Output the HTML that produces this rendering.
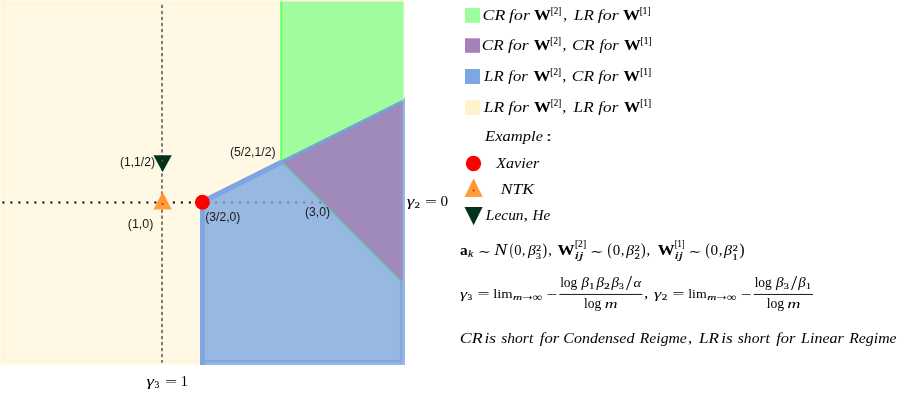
<!DOCTYPE html>
<html lang="en"><head><meta charset="utf-8"><title>Phase diagram</title>
<style>
html,body{margin:0;padding:0;background:#fff;}
body{width:907px;height:393px;overflow:hidden;}
svg{display:block;}
text{white-space:pre;}
</style></head><body>
<svg width="907" height="393" viewBox="0 0 907 393">
<defs>
<linearGradient id="og" x1="0" y1="0" x2="0" y2="1"><stop offset="0" stop-color="#ff9128"/><stop offset="1" stop-color="#ffa040"/></linearGradient>
</defs>
<rect x="2.4" y="2.4" width="399.8" height="360" fill="#FFF2CC" fill-opacity="0.5" stroke="#FFF2CC" stroke-opacity="0.5" stroke-width="5"/>
<path d="M162 4.8V362.8" stroke="#000" stroke-width="1" stroke-dasharray="3.3 2.72" fill="none"/>
<path d="M2.4 202.4H162" stroke="#000" stroke-width="2" stroke-dasharray="2 6" fill="none"/>
<path d="M172.9 202.4H196" stroke="#000" stroke-width="2" stroke-dasharray="2 6" fill="none"/>
<path d="M215 202.4H404" stroke="#000" stroke-width="2" stroke-dasharray="2 6.02" fill="none"/>
<polygon points="202.5,201.8 402.5,101.8 402.5,362.4 202.5,362.4" fill="#7EA6E0" fill-opacity="0.8" stroke="#7EA6E0" stroke-opacity="0.8" stroke-width="5" stroke-linejoin="miter"/>
<path d="M202.5 364.9V201.8L282 162.05" fill="none" stroke="#7EA6E0" stroke-width="5" stroke-linejoin="miter"/>
<polygon points="281.2,1.4 403.6,1.4 403.6,99.6 281.2,160.6" fill="#a0fd9e"/>
<path d="M281.2 1.4V160.4" stroke="#66ff66" stroke-width="2" fill="none"/>
<path d="M282 162.05L402.5 101.8" stroke="#74a5d4" stroke-width="3.3" fill="none"/>
<polygon points="283,162.8 402.6,103.0 402.6,282.3" fill="#a08abc" stroke="none"/>
<path d="M283 162.8L402.6 282.3" stroke="#6fbcae" stroke-width="1.7" fill="none"/>
<polygon points="153.4,155.2 171.8,155.2 162.6,171.9" fill="#00331a"/>
<polygon points="153.4,209.5 171.8,209.5 162.6,192" fill="url(#og)"/>
<circle cx="162.4" cy="160.6" r="0.9" fill="#e02020"/>
<circle cx="162.5" cy="204" r="1" fill="#ff1010"/>
<circle cx="202.4" cy="202.2" r="7.5" fill="#ff0000"/>
<rect x="465" y="8" width="15" height="14.8" fill="#9cfd9b"/>
<rect x="465" y="38.3" width="15" height="14.5" fill="#A680B8"/>
<rect x="465" y="69" width="15" height="15" fill="#7EA6E0"/>
<rect x="465" y="100" width="15" height="14.8" fill="#FFF2CC"/>
<circle cx="473.5" cy="163.5" r="7.7" fill="#ff0000"/>
<polygon points="464.5,197 482.8,197 473.6,178.4" fill="url(#og)"/>
<circle cx="473.6" cy="190.6" r="1" fill="#ff1010"/>
<polygon points="464.5,207 482.6,207 473.6,225.3" fill="#00331a"/>
<path d="M559.3 294.45H642.3M753.8 294.45H813" stroke="#000" stroke-width="0.9" fill="none"/>
<text x="119.97" y="165.6" font-family='"Liberation Sans", "DejaVu Sans", sans-serif' font-size="12" textLength="34.97" lengthAdjust="spacingAndGlyphs" fill="#1a1a1a">(1,1/2)</text>
<text x="229.96" y="155.6" font-family='"Liberation Sans", "DejaVu Sans", sans-serif' font-size="12" textLength="45.69" lengthAdjust="spacingAndGlyphs" fill="#1a1a1a">(5/2,1/2)</text>
<text x="205.27" y="220.7" font-family='"Liberation Sans", "DejaVu Sans", sans-serif' font-size="12" textLength="35.07" lengthAdjust="spacingAndGlyphs" fill="#1a1a1a">(3/2,0)</text>
<text x="304.97" y="215.8" font-family='"Liberation Sans", "DejaVu Sans", sans-serif' font-size="12" textLength="25.08" lengthAdjust="spacingAndGlyphs" fill="#1a1a1a">(3,0)</text>
<text x="127.75" y="227.7" font-family='"Liberation Sans", "DejaVu Sans", sans-serif' font-size="12" textLength="25.71" lengthAdjust="spacingAndGlyphs" fill="#1a1a1a">(1,0)</text>
<text x="406.81" y="205.8" font-family='"Liberation Serif", "DejaVu Serif", serif' font-size="13.88" font-style="italic" textLength="7.59" lengthAdjust="spacingAndGlyphs" fill="#000">γ</text>
<text x="414.56" y="207.5" font-family='"Liberation Serif", "DejaVu Serif", serif' font-size="8.96" stroke="#000" stroke-width="0.12" textLength="5.49" lengthAdjust="spacingAndGlyphs" fill="#000">2</text>
<text x="424.96" y="206.3" font-family='"Liberation Serif", "DejaVu Serif", serif' font-size="13.5" textLength="11.87" lengthAdjust="spacingAndGlyphs" fill="#000">=</text>
<text x="440.54" y="205.6" font-family='"Liberation Serif", "DejaVu Serif", serif' font-size="15.15" textLength="7.61" lengthAdjust="spacingAndGlyphs" fill="#000">0</text>
<text x="146.61" y="385.9" font-family='"Liberation Serif", "DejaVu Serif", serif' font-size="14.48" font-style="italic" textLength="7.50" lengthAdjust="spacingAndGlyphs" fill="#000">γ</text>
<text x="154.61" y="387.8" font-family='"Liberation Serif", "DejaVu Serif", serif' font-size="9.56" stroke="#000" stroke-width="0.12" textLength="4.88" lengthAdjust="spacingAndGlyphs" fill="#000">3</text>
<text x="164.93" y="386.4" font-family='"Liberation Serif", "DejaVu Serif", serif' font-size="13.5" textLength="12.22" lengthAdjust="spacingAndGlyphs" fill="#000">=</text>
<text x="180.77" y="385.8" font-family='"Liberation Serif", "DejaVu Serif", serif' font-size="14.85" textLength="7.08" lengthAdjust="spacingAndGlyphs" fill="#000">1</text>
<text x="482.61" y="20.1" font-family='"Liberation Serif", "DejaVu Serif", serif' font-size="14" font-style="italic" textLength="22.78" lengthAdjust="spacingAndGlyphs" fill="#000">CR</text>
<text x="509.12" y="20.1" font-family='"Liberation Serif", "DejaVu Serif", serif' font-size="14" font-style="italic" textLength="20.69" lengthAdjust="spacingAndGlyphs" fill="#000">for</text>
<text x="533.93" y="20.1" font-family='"Liberation Serif", "DejaVu Serif", serif' font-size="14" font-weight="bold" textLength="16.84" lengthAdjust="spacingAndGlyphs" fill="#000">W</text>
<text x="550.67" y="14.3" font-family='"Liberation Serif", "DejaVu Serif", serif' font-size="10.5" stroke="#000" stroke-width="0.12" textLength="10.49" lengthAdjust="spacingAndGlyphs" fill="#000">[2]</text>
<text x="563.15" y="20.1" font-family='"Liberation Serif", "DejaVu Serif", serif' font-size="14" textLength="3.75" lengthAdjust="spacingAndGlyphs" fill="#000">,</text>
<text x="574.04" y="20.1" font-family='"Liberation Serif", "DejaVu Serif", serif' font-size="14" font-style="italic" textLength="19.94" lengthAdjust="spacingAndGlyphs" fill="#000">LR</text>
<text x="597.82" y="20.1" font-family='"Liberation Serif", "DejaVu Serif", serif' font-size="14" font-style="italic" textLength="20.98" lengthAdjust="spacingAndGlyphs" fill="#000">for</text>
<text x="622.93" y="20.1" font-family='"Liberation Serif", "DejaVu Serif", serif' font-size="14" font-weight="bold" textLength="17.14" lengthAdjust="spacingAndGlyphs" fill="#000">W</text>
<text x="639.76" y="14.3" font-family='"Liberation Serif", "DejaVu Serif", serif' font-size="10.5" stroke="#000" stroke-width="0.12" textLength="10.71" lengthAdjust="spacingAndGlyphs" fill="#000">[1]</text>
<text x="481.74" y="49.9" font-family='"Liberation Serif", "DejaVu Serif", serif' font-size="14" font-style="italic" textLength="22.05" lengthAdjust="spacingAndGlyphs" fill="#000">CR</text>
<text x="508.02" y="49.9" font-family='"Liberation Serif", "DejaVu Serif", serif' font-size="14" font-style="italic" textLength="20.69" lengthAdjust="spacingAndGlyphs" fill="#000">for</text>
<text x="533.73" y="49.9" font-family='"Liberation Serif", "DejaVu Serif", serif' font-size="14" font-weight="bold" textLength="16.84" lengthAdjust="spacingAndGlyphs" fill="#000">W</text>
<text x="550.36" y="44.1" font-family='"Liberation Serif", "DejaVu Serif", serif' font-size="10.5" stroke="#000" stroke-width="0.12" textLength="10.60" lengthAdjust="spacingAndGlyphs" fill="#000">[2]</text>
<text x="562.53" y="49.9" font-family='"Liberation Serif", "DejaVu Serif", serif' font-size="14" textLength="3.91" lengthAdjust="spacingAndGlyphs" fill="#000">,</text>
<text x="571.91" y="49.9" font-family='"Liberation Serif", "DejaVu Serif", serif' font-size="14" font-style="italic" textLength="22.68" lengthAdjust="spacingAndGlyphs" fill="#000">CR</text>
<text x="599.43" y="49.9" font-family='"Liberation Serif", "DejaVu Serif", serif' font-size="14" font-style="italic" textLength="19.39" lengthAdjust="spacingAndGlyphs" fill="#000">for</text>
<text x="624.13" y="49.9" font-family='"Liberation Serif", "DejaVu Serif", serif' font-size="14" font-weight="bold" textLength="16.84" lengthAdjust="spacingAndGlyphs" fill="#000">W</text>
<text x="640.53" y="44.1" font-family='"Liberation Serif", "DejaVu Serif", serif' font-size="10.5" stroke="#000" stroke-width="0.12" textLength="11.17" lengthAdjust="spacingAndGlyphs" fill="#000">[1]</text>
<text x="484.04" y="80.6" font-family='"Liberation Serif", "DejaVu Serif", serif' font-size="14" font-style="italic" textLength="19.65" lengthAdjust="spacingAndGlyphs" fill="#000">LR</text>
<text x="508.33" y="80.6" font-family='"Liberation Serif", "DejaVu Serif", serif' font-size="14" font-style="italic" textLength="19.49" lengthAdjust="spacingAndGlyphs" fill="#000">for</text>
<text x="533.53" y="80.6" font-family='"Liberation Serif", "DejaVu Serif", serif' font-size="14" font-weight="bold" textLength="17.04" lengthAdjust="spacingAndGlyphs" fill="#000">W</text>
<text x="550.36" y="74.8" font-family='"Liberation Serif", "DejaVu Serif", serif' font-size="10.5" stroke="#000" stroke-width="0.12" textLength="10.60" lengthAdjust="spacingAndGlyphs" fill="#000">[2]</text>
<text x="562.31" y="80.6" font-family='"Liberation Serif", "DejaVu Serif", serif' font-size="14" textLength="4.06" lengthAdjust="spacingAndGlyphs" fill="#000">,</text>
<text x="571.72" y="80.6" font-family='"Liberation Serif", "DejaVu Serif", serif' font-size="14" font-style="italic" textLength="22.36" lengthAdjust="spacingAndGlyphs" fill="#000">CR</text>
<text x="598.33" y="80.6" font-family='"Liberation Serif", "DejaVu Serif", serif' font-size="14" font-style="italic" textLength="20.09" lengthAdjust="spacingAndGlyphs" fill="#000">for</text>
<text x="623.53" y="80.6" font-family='"Liberation Serif", "DejaVu Serif", serif' font-size="14" font-weight="bold" textLength="16.53" lengthAdjust="spacingAndGlyphs" fill="#000">W</text>
<text x="640.14" y="74.8" font-family='"Liberation Serif", "DejaVu Serif", serif' font-size="10.5" stroke="#000" stroke-width="0.12" textLength="10.94" lengthAdjust="spacingAndGlyphs" fill="#000">[1]</text>
<text x="483.85" y="111.8" font-family='"Liberation Serif", "DejaVu Serif", serif' font-size="14" font-style="italic" textLength="20.44" lengthAdjust="spacingAndGlyphs" fill="#000">LR</text>
<text x="508.32" y="111.8" font-family='"Liberation Serif", "DejaVu Serif", serif' font-size="14" font-style="italic" textLength="20.69" lengthAdjust="spacingAndGlyphs" fill="#000">for</text>
<text x="533.93" y="111.8" font-family='"Liberation Serif", "DejaVu Serif", serif' font-size="14" font-weight="bold" textLength="16.84" lengthAdjust="spacingAndGlyphs" fill="#000">W</text>
<text x="550.67" y="106.0" font-family='"Liberation Serif", "DejaVu Serif", serif' font-size="10.5" stroke="#000" stroke-width="0.12" textLength="10.49" lengthAdjust="spacingAndGlyphs" fill="#000">[2]</text>
<text x="562.31" y="111.8" font-family='"Liberation Serif", "DejaVu Serif", serif' font-size="14" textLength="4.06" lengthAdjust="spacingAndGlyphs" fill="#000">,</text>
<text x="573.64" y="111.8" font-family='"Liberation Serif", "DejaVu Serif", serif' font-size="14" font-style="italic" textLength="20.04" lengthAdjust="spacingAndGlyphs" fill="#000">LR</text>
<text x="598.33" y="111.8" font-family='"Liberation Serif", "DejaVu Serif", serif' font-size="14" font-style="italic" textLength="20.09" lengthAdjust="spacingAndGlyphs" fill="#000">for</text>
<text x="624.14" y="111.8" font-family='"Liberation Serif", "DejaVu Serif", serif' font-size="14" font-weight="bold" textLength="16.22" lengthAdjust="spacingAndGlyphs" fill="#000">W</text>
<text x="640.14" y="106.0" font-family='"Liberation Serif", "DejaVu Serif", serif' font-size="10.5" stroke="#000" stroke-width="0.12" textLength="10.94" lengthAdjust="spacingAndGlyphs" fill="#000">[1]</text>
<text x="485.13" y="140.6" font-family='"Liberation Serif", "DejaVu Serif", serif' font-size="14" font-style="italic" textLength="57.90" lengthAdjust="spacingAndGlyphs" fill="#000">Example</text>
<text x="545.78" y="140.6" font-family='"Liberation Serif", "DejaVu Serif", serif' font-size="14" textLength="6.41" lengthAdjust="spacingAndGlyphs" fill="#000">:</text>
<text x="496.15" y="167.6" font-family='"Liberation Serif", "DejaVu Serif", serif' font-size="14" font-style="italic" textLength="43.08" lengthAdjust="spacingAndGlyphs" fill="#000">Xavier</text>
<text x="500.68" y="194.0" font-family='"Liberation Serif", "DejaVu Serif", serif' font-size="14" font-style="italic" textLength="33.27" lengthAdjust="spacingAndGlyphs" fill="#000">NTK</text>
<text x="485.81" y="220.4" font-family='"Liberation Serif", "DejaVu Serif", serif' font-size="14" font-style="italic" textLength="37.81" lengthAdjust="spacingAndGlyphs" fill="#000">Lecun</text>
<text x="523.48" y="220.4" font-family='"Liberation Serif", "DejaVu Serif", serif' font-size="14" textLength="4.37" lengthAdjust="spacingAndGlyphs" fill="#000">,</text>
<text x="532.41" y="220.4" font-family='"Liberation Serif", "DejaVu Serif", serif' font-size="14" font-style="italic" textLength="17.81" lengthAdjust="spacingAndGlyphs" fill="#000">He</text>
<text x="460.14" y="254.8" font-family='"Liberation Serif", "DejaVu Serif", serif' font-size="13.96" font-weight="bold" textLength="7.72" lengthAdjust="spacingAndGlyphs" fill="#000">a</text>
<text x="468.06" y="257.0" font-family='"Liberation Serif", "DejaVu Serif", serif' font-size="10.0" font-style="italic" stroke="#000" stroke-width="0.12" textLength="5.25" lengthAdjust="spacingAndGlyphs" fill="#000">k</text>
<text x="477.94" y="255.7" font-family='"DejaVu Serif", "DejaVu Sans", serif' font-size="13" textLength="13.09" lengthAdjust="spacingAndGlyphs" fill="#000">∼</text>
<text x="494.19" y="254.8" font-family='"Liberation Serif", "DejaVu Serif", serif' font-size="16.82" font-style="italic" textLength="12.97" lengthAdjust="spacingAndGlyphs" fill="#000">N</text>
<text x="509.67" y="255.0" font-family='"Liberation Serif", "DejaVu Serif", serif' font-size="16.41" textLength="3.58" lengthAdjust="spacingAndGlyphs" fill="#000">(</text>
<text x="514.36" y="254.7" font-family='"Liberation Serif", "DejaVu Serif", serif' font-size="14.26" textLength="7.27" lengthAdjust="spacingAndGlyphs" fill="#000">0</text>
<text x="522.11" y="254.8" font-family='"Liberation Serif", "DejaVu Serif", serif' font-size="14" textLength="3.28" lengthAdjust="spacingAndGlyphs" fill="#000">,</text>
<text x="527.92" y="254.8" font-family='"Liberation Serif", "DejaVu Serif", serif' font-size="14.4" font-style="italic" textLength="7.85" lengthAdjust="spacingAndGlyphs" fill="#000">β</text>
<text x="536.08" y="250.6" font-family='"Liberation Serif", "DejaVu Serif", serif' font-size="8.66" stroke="#000" stroke-width="0.12" textLength="5.24" lengthAdjust="spacingAndGlyphs" fill="#000">2</text>
<text x="536.10" y="259.3" font-family='"Liberation Serif", "DejaVu Serif", serif' font-size="8.97" stroke="#000" stroke-width="0.12" textLength="5.00" lengthAdjust="spacingAndGlyphs" fill="#000">3</text>
<text x="542.58" y="255.0" font-family='"Liberation Serif", "DejaVu Serif", serif' font-size="16.41" textLength="4.61" lengthAdjust="spacingAndGlyphs" fill="#000">)</text>
<text x="548.27" y="254.8" font-family='"Liberation Serif", "DejaVu Serif", serif' font-size="14" textLength="3.59" lengthAdjust="spacingAndGlyphs" fill="#000">,</text>
<text x="557.63" y="254.5" font-family='"Liberation Serif", "DejaVu Serif", serif' font-size="14.18" font-weight="bold" textLength="17.14" lengthAdjust="spacingAndGlyphs" fill="#000">W</text>
<text x="574.93" y="247.3" font-family='"Liberation Serif", "DejaVu Serif", serif' font-size="10.5" stroke="#000" stroke-width="0.12" textLength="11.17" lengthAdjust="spacingAndGlyphs" fill="#000">[2]</text>
<text x="574.59" y="258.8" font-family='"Liberation Serif", "DejaVu Serif", serif' font-size="9.77" font-style="italic" stroke="#000" stroke-width="0.12" textLength="9.00" lengthAdjust="spacingAndGlyphs" fill="#000">ij</text>
<text x="589.98" y="255.7" font-family='"DejaVu Serif", "DejaVu Sans", serif' font-size="13" textLength="13.62" lengthAdjust="spacingAndGlyphs" fill="#000">∼</text>
<text x="607.50" y="255.0" font-family='"Liberation Serif", "DejaVu Serif", serif' font-size="16.41" textLength="4.19" lengthAdjust="spacingAndGlyphs" fill="#000">(</text>
<text x="612.65" y="254.7" font-family='"Liberation Serif", "DejaVu Serif", serif' font-size="14.26" textLength="7.50" lengthAdjust="spacingAndGlyphs" fill="#000">0</text>
<text x="620.91" y="254.8" font-family='"Liberation Serif", "DejaVu Serif", serif' font-size="14" textLength="3.28" lengthAdjust="spacingAndGlyphs" fill="#000">,</text>
<text x="626.22" y="254.8" font-family='"Liberation Serif", "DejaVu Serif", serif' font-size="14.4" font-style="italic" textLength="7.85" lengthAdjust="spacingAndGlyphs" fill="#000">β</text>
<text x="634.57" y="250.6" font-family='"Liberation Serif", "DejaVu Serif", serif' font-size="8.66" stroke="#000" stroke-width="0.12" textLength="5.37" lengthAdjust="spacingAndGlyphs" fill="#000">2</text>
<text x="634.57" y="259.4" font-family='"Liberation Serif", "DejaVu Serif", serif' font-size="9.1" stroke="#000" stroke-width="0.12" textLength="5.37" lengthAdjust="spacingAndGlyphs" fill="#000">2</text>
<text x="640.98" y="255.0" font-family='"Liberation Serif", "DejaVu Serif", serif' font-size="16.41" textLength="4.61" lengthAdjust="spacingAndGlyphs" fill="#000">)</text>
<text x="646.47" y="254.8" font-family='"Liberation Serif", "DejaVu Serif", serif' font-size="14" textLength="3.59" lengthAdjust="spacingAndGlyphs" fill="#000">,</text>
<text x="657.83" y="254.5" font-family='"Liberation Serif", "DejaVu Serif", serif' font-size="14.18" font-weight="bold" textLength="16.94" lengthAdjust="spacingAndGlyphs" fill="#000">W</text>
<text x="674.81" y="247.3" font-family='"Liberation Serif", "DejaVu Serif", serif' font-size="10.5" stroke="#000" stroke-width="0.12" textLength="9.80" lengthAdjust="spacingAndGlyphs" fill="#000">[1]</text>
<text x="674.44" y="258.8" font-family='"Liberation Serif", "DejaVu Serif", serif' font-size="9.77" font-style="italic" stroke="#000" stroke-width="0.12" textLength="8.43" lengthAdjust="spacingAndGlyphs" fill="#000">ij</text>
<text x="688.39" y="255.7" font-family='"DejaVu Serif", "DejaVu Sans", serif' font-size="13" textLength="13.48" lengthAdjust="spacingAndGlyphs" fill="#000">∼</text>
<text x="705.38" y="255.0" font-family='"Liberation Serif", "DejaVu Serif", serif' font-size="16.41" textLength="4.32" lengthAdjust="spacingAndGlyphs" fill="#000">(</text>
<text x="710.54" y="254.7" font-family='"Liberation Serif", "DejaVu Serif", serif' font-size="14.26" textLength="7.61" lengthAdjust="spacingAndGlyphs" fill="#000">0</text>
<text x="719.01" y="254.8" font-family='"Liberation Serif", "DejaVu Serif", serif' font-size="14" textLength="3.28" lengthAdjust="spacingAndGlyphs" fill="#000">,</text>
<text x="724.02" y="254.8" font-family='"Liberation Serif", "DejaVu Serif", serif' font-size="14.4" font-style="italic" textLength="8.05" lengthAdjust="spacingAndGlyphs" fill="#000">β</text>
<text x="732.56" y="250.6" font-family='"Liberation Serif", "DejaVu Serif", serif' font-size="8.66" stroke="#000" stroke-width="0.12" textLength="5.49" lengthAdjust="spacingAndGlyphs" fill="#000">2</text>
<text x="732.00" y="259.5" font-family='"Liberation Serif", "DejaVu Serif", serif' font-size="9.24" stroke="#000" stroke-width="0.12" textLength="6.25" lengthAdjust="spacingAndGlyphs" fill="#000">1</text>
<text x="739.32" y="255.0" font-family='"Liberation Serif", "DejaVu Serif", serif' font-size="16.41" textLength="5.38" lengthAdjust="spacingAndGlyphs" fill="#000">)</text>
<text x="460.02" y="297.8" font-family='"Liberation Serif", "DejaVu Serif", serif' font-size="13.28" font-style="italic" textLength="7.21" lengthAdjust="spacingAndGlyphs" fill="#000">γ</text>
<text x="467.63" y="299.8" font-family='"Liberation Serif", "DejaVu Serif", serif' font-size="8.97" stroke="#000" stroke-width="0.12" textLength="4.65" lengthAdjust="spacingAndGlyphs" fill="#000">3</text>
<text x="477.63" y="298.4" font-family='"Liberation Serif", "DejaVu Serif", serif' font-size="12.5" textLength="12.22" lengthAdjust="spacingAndGlyphs" fill="#000">=</text>
<text x="493.21" y="297.7" font-family='"Liberation Serif", "DejaVu Serif", serif' font-size="13.43" textLength="19.51" lengthAdjust="spacingAndGlyphs" fill="#000">lim</text>
<text x="513.02" y="299.8" font-family='"Liberation Serif", "DejaVu Serif", serif' font-size="9.17" font-style="italic" stroke="#000" stroke-width="0.12" textLength="9.19" lengthAdjust="spacingAndGlyphs" fill="#000">m</text>
<text x="519.90" y="300.4" font-family='"Liberation Serif", "DejaVu Serif", serif' font-size="15" textLength="15.00" lengthAdjust="spacingAndGlyphs" fill="#000">→</text>
<text x="532.58" y="301.0" font-family='"Liberation Serif", "DejaVu Serif", serif' font-size="11.25" textLength="9.87" lengthAdjust="spacingAndGlyphs" fill="#000">∞</text>
<text x="546.83" y="299.0" font-family='"Liberation Serif", "DejaVu Serif", serif' font-size="14" textLength="10.81" lengthAdjust="spacingAndGlyphs" fill="#000">−</text>
<text x="654.11" y="297.8" font-family='"Liberation Serif", "DejaVu Serif", serif' font-size="13.28" font-style="italic" textLength="7.40" lengthAdjust="spacingAndGlyphs" fill="#000">γ</text>
<text x="661.85" y="299.9" font-family='"Liberation Serif", "DejaVu Serif", serif' font-size="9.1" stroke="#000" stroke-width="0.12" textLength="5.61" lengthAdjust="spacingAndGlyphs" fill="#000">2</text>
<text x="672.22" y="298.4" font-family='"Liberation Serif", "DejaVu Serif", serif' font-size="12.5" textLength="12.45" lengthAdjust="spacingAndGlyphs" fill="#000">=</text>
<text x="688.22" y="297.7" font-family='"Liberation Serif", "DejaVu Serif", serif' font-size="13.43" textLength="18.49" lengthAdjust="spacingAndGlyphs" fill="#000">lim</text>
<text x="707.22" y="299.8" font-family='"Liberation Serif", "DejaVu Serif", serif' font-size="9.17" font-style="italic" stroke="#000" stroke-width="0.12" textLength="9.19" lengthAdjust="spacingAndGlyphs" fill="#000">m</text>
<text x="714.10" y="300.4" font-family='"Liberation Serif", "DejaVu Serif", serif' font-size="15" textLength="15.00" lengthAdjust="spacingAndGlyphs" fill="#000">→</text>
<text x="726.78" y="301.0" font-family='"Liberation Serif", "DejaVu Serif", serif' font-size="11.25" textLength="9.87" lengthAdjust="spacingAndGlyphs" fill="#000">∞</text>
<text x="741.03" y="299.0" font-family='"Liberation Serif", "DejaVu Serif", serif' font-size="14" textLength="10.81" lengthAdjust="spacingAndGlyphs" fill="#000">−</text>
<text x="560.13" y="286.8" font-family='"Liberation Serif", "DejaVu Serif", serif' font-size="14.0" textLength="17.20" lengthAdjust="spacingAndGlyphs" fill="#000">log</text>
<text x="581.60" y="286.9" font-family='"Liberation Serif", "DejaVu Serif", serif' font-size="13.85" font-style="italic" textLength="7.47" lengthAdjust="spacingAndGlyphs" fill="#000">β</text>
<text x="589.01" y="288.7" font-family='"Liberation Serif", "DejaVu Serif", serif' font-size="8.33" stroke="#000" stroke-width="0.12" textLength="5.56" lengthAdjust="spacingAndGlyphs" fill="#000">1</text>
<text x="596.50" y="286.9" font-family='"Liberation Serif", "DejaVu Serif", serif' font-size="13.85" font-style="italic" textLength="7.47" lengthAdjust="spacingAndGlyphs" fill="#000">β</text>
<text x="604.03" y="288.6" font-family='"Liberation Serif", "DejaVu Serif", serif' font-size="8.21" stroke="#000" stroke-width="0.12" textLength="5.85" lengthAdjust="spacingAndGlyphs" fill="#000">2</text>
<text x="611.50" y="286.9" font-family='"Liberation Serif", "DejaVu Serif", serif' font-size="13.85" font-style="italic" textLength="7.47" lengthAdjust="spacingAndGlyphs" fill="#000">β</text>
<text x="619.02" y="288.5" font-family='"Liberation Serif", "DejaVu Serif", serif' font-size="8.09" stroke="#000" stroke-width="0.12" textLength="4.77" lengthAdjust="spacingAndGlyphs" fill="#000">3</text>
<text x="626.10" y="289.9" font-family='"Liberation Serif", "DejaVu Serif", serif' font-size="20.3" textLength="6.05" lengthAdjust="spacingAndGlyphs" fill="#000">/</text>
<text x="633.61" y="286.7" font-family='"Liberation Serif", "DejaVu Serif", serif' font-size="12.29" font-style="italic" textLength="7.72" lengthAdjust="spacingAndGlyphs" fill="#000">α</text>
<text x="584.03" y="308.1" font-family='"Liberation Serif", "DejaVu Serif", serif' font-size="14.0" textLength="17.20" lengthAdjust="spacingAndGlyphs" fill="#000">log</text>
<text x="604.87" y="307.8" font-family='"Liberation Serif", "DejaVu Serif", serif' font-size="12.08" font-style="italic" textLength="12.80" lengthAdjust="spacingAndGlyphs" fill="#000">m</text>
<text x="644.09" y="297.8" font-family='"Liberation Serif", "DejaVu Serif", serif' font-size="14" textLength="4.22" lengthAdjust="spacingAndGlyphs" fill="#000">,</text>
<text x="754.63" y="286.8" font-family='"Liberation Serif", "DejaVu Serif", serif' font-size="14.0" textLength="17.20" lengthAdjust="spacingAndGlyphs" fill="#000">log</text>
<text x="776.10" y="286.9" font-family='"Liberation Serif", "DejaVu Serif", serif' font-size="13.85" font-style="italic" textLength="7.57" lengthAdjust="spacingAndGlyphs" fill="#000">β</text>
<text x="783.89" y="288.5" font-family='"Liberation Serif", "DejaVu Serif", serif' font-size="8.09" stroke="#000" stroke-width="0.12" textLength="5.12" lengthAdjust="spacingAndGlyphs" fill="#000">3</text>
<text x="790.90" y="289.9" font-family='"Liberation Serif", "DejaVu Serif", serif' font-size="20.3" textLength="6.15" lengthAdjust="spacingAndGlyphs" fill="#000">/</text>
<text x="798.20" y="286.9" font-family='"Liberation Serif", "DejaVu Serif", serif' font-size="13.85" font-style="italic" textLength="7.47" lengthAdjust="spacingAndGlyphs" fill="#000">β</text>
<text x="805.73" y="288.7" font-family='"Liberation Serif", "DejaVu Serif", serif' font-size="8.33" stroke="#000" stroke-width="0.12" textLength="5.42" lengthAdjust="spacingAndGlyphs" fill="#000">1</text>
<text x="766.63" y="308.1" font-family='"Liberation Serif", "DejaVu Serif", serif' font-size="14.0" textLength="17.51" lengthAdjust="spacingAndGlyphs" fill="#000">log</text>
<text x="787.25" y="307.8" font-family='"Liberation Serif", "DejaVu Serif", serif' font-size="12.08" font-style="italic" textLength="13.24" lengthAdjust="spacingAndGlyphs" fill="#000">m</text>
<text x="459.70" y="342.6" font-family='"Liberation Serif", "DejaVu Serif", serif' font-size="14" font-style="italic" textLength="22.89" lengthAdjust="spacingAndGlyphs" fill="#000">CR</text>
<text x="484.53" y="342.6" font-family='"Liberation Serif", "DejaVu Serif", serif' font-size="14" font-style="italic" textLength="11.57" lengthAdjust="spacingAndGlyphs" fill="#000">is</text>
<text x="501.24" y="342.6" font-family='"Liberation Serif", "DejaVu Serif", serif' font-size="14" font-style="italic" textLength="32.01" lengthAdjust="spacingAndGlyphs" fill="#000">short</text>
<text x="539.83" y="342.6" font-family='"Liberation Serif", "DejaVu Serif", serif' font-size="14" font-style="italic" textLength="19.49" lengthAdjust="spacingAndGlyphs" fill="#000">for</text>
<text x="563.20" y="342.6" font-family='"Liberation Serif", "DejaVu Serif", serif' font-size="14" font-style="italic" textLength="71.24" lengthAdjust="spacingAndGlyphs" fill="#000">Condensed</text>
<text x="639.76" y="342.6" font-family='"Liberation Serif", "DejaVu Serif", serif' font-size="14" font-style="italic" textLength="47.06" lengthAdjust="spacingAndGlyphs" fill="#000">Reigme</text>
<text x="698.94" y="342.6" font-family='"Liberation Serif", "DejaVu Serif", serif' font-size="14" font-style="italic" textLength="20.04" lengthAdjust="spacingAndGlyphs" fill="#000">LR</text>
<text x="721.23" y="342.6" font-family='"Liberation Serif", "DejaVu Serif", serif' font-size="14" font-style="italic" textLength="11.57" lengthAdjust="spacingAndGlyphs" fill="#000">is</text>
<text x="737.74" y="342.6" font-family='"Liberation Serif", "DejaVu Serif", serif' font-size="14" font-style="italic" textLength="32.21" lengthAdjust="spacingAndGlyphs" fill="#000">short</text>
<text x="776.23" y="342.6" font-family='"Liberation Serif", "DejaVu Serif", serif' font-size="14" font-style="italic" textLength="19.29" lengthAdjust="spacingAndGlyphs" fill="#000">for</text>
<text x="801.12" y="342.6" font-family='"Liberation Serif", "DejaVu Serif", serif' font-size="14" font-style="italic" textLength="42.61" lengthAdjust="spacingAndGlyphs" fill="#000">Linear</text>
<text x="849.16" y="342.6" font-family='"Liberation Serif", "DejaVu Serif", serif' font-size="14" font-style="italic" textLength="47.46" lengthAdjust="spacingAndGlyphs" fill="#000">Regime</text>
<text x="687.91" y="342.6" font-family='"Liberation Serif", "DejaVu Serif", serif' font-size="14" textLength="4.06" lengthAdjust="spacingAndGlyphs" fill="#000">,</text>
</svg></body></html>
